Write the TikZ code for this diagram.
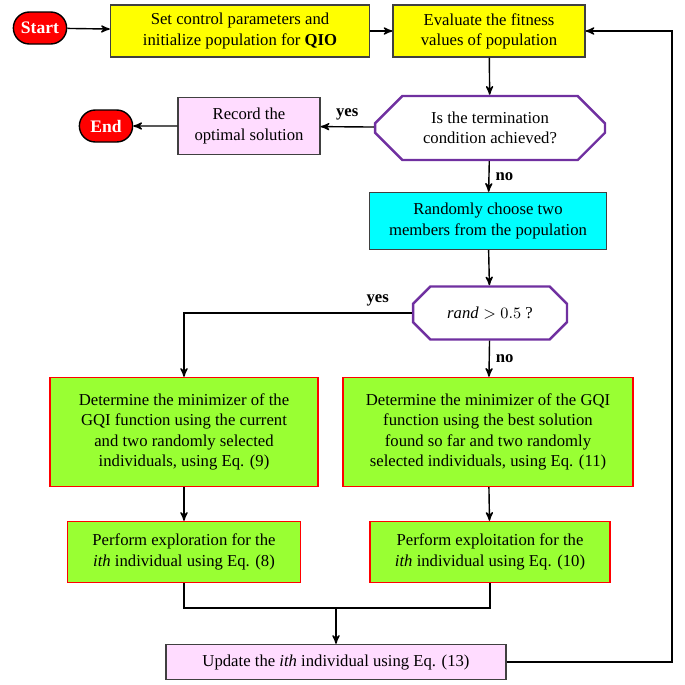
\documentclass[tikz,border=0pt]{standalone}
\usepackage{fontspec}
\setmainfont{Liberation Serif}
\usetikzlibrary{arrows,calc,shapes.geometric,shapes.misc,positioning}
\definecolor{yelbox}{RGB}{255,255,0}
\definecolor{pinkbox}{RGB}{255,220,255}
\definecolor{cyanbox}{RGB}{0,255,255}
\definecolor{greenbox}{RGB}{153,255,51}
\definecolor{hexline}{RGB}{112,48,160}
\begin{document}
\begin{tikzpicture}[x=0.02cm,y=-0.02cm,>=stealth',thick,
  font=\fontsize{9.5}{11.5}\selectfont,
  term node/.style={rounded rectangle,fill=red,draw=black,text=white,font=\fontsize{10}{12}\selectfont\bfseries,minimum width=1.3cm,minimum height=0.64cm},
  main node/.style={rectangle,draw=black!75,align=center,inner sep=2pt},
  hex node/.style={chamfered rectangle,chamfered rectangle xsep=0.5cm,draw=hexline,line width=1.4pt,fill=white,align=center}]

\useasboundingbox (0,0) rectangle (685,684);

\node[term node](S) at (40,28) {Start};
\node[main node,fill=yelbox,minimum width=5.18cm,minimum height=1.04cm](B1) at (240,31) {Set control parameters and\\initialize population for \textbf{QIO}};
\node[main node,fill=yelbox,minimum width=3.84cm,minimum height=1.04cm](B2) at (489,31) {Evaluate the fitness\\values of population};
\node[hex node,minimum width=4.6cm,minimum height=1.28cm](H1) at (490,128) {Is the termination\\condition achieved?};
\node[main node,fill=pinkbox,minimum width=2.84cm,minimum height=1.14cm](R) at (249,126) {Record the\\optimal solution};
\node[term node](E) at (106,126) {End};
\node[main node,fill=cyanbox,minimum width=4.74cm,minimum height=1.14cm](C) at (488,221) {Randomly choose two\\members from the population};
\node[hex node,minimum width=3.08cm,minimum height=1.06cm](H2) at (490,313) {$\mathit{rand} > 0.5$ ?};
\node[main node,draw=red,fill=greenbox,minimum width=5.36cm,minimum height=2.18cm](G1) at (184,432) {Determine the minimizer of the\\GQI function using the current\\and two randomly selected\\individuals, using Eq. (9)};
\node[main node,draw=red,fill=greenbox,minimum width=5.8cm,minimum height=2.18cm](G2) at (488,432) {Determine the minimizer of the GQI\\function using the best solution\\found so far and two randomly\\selected individuals, using Eq. (11)};
\node[main node,draw=red,fill=greenbox,minimum width=4.66cm,minimum height=1.22cm](P1) at (184,552) {Perform exploration for the\\$\mathit{ith}$ individual using Eq. (8)};
\node[main node,draw=red,fill=greenbox,minimum width=4.8cm,minimum height=1.22cm](P2) at (490,552) {Perform exploitation for the\\$\mathit{ith}$ individual using Eq. (10)};
\node[main node,fill=pinkbox,minimum width=6.8cm,minimum height=0.7cm](U) at (336,662) {Update the $\mathit{ith}$ individual using Eq. (13)};
\coordinate (J) at (336,608);
\coordinate (F) at (672,662);

\draw[->] (S) -- (B1);
\draw[->] (B1) -- (B2);
\draw[->] (B2) -- (H1);
\draw[->] (H1) -- node[above,font=\fontsize{9.5}{11}\selectfont\bfseries]{yes} (R);
\draw[->] (R) -- (E);
\draw[->] (H1) -- node[right,font=\fontsize{9.5}{11}\selectfont\bfseries]{no} (C);
\draw[->] (C) -- (H2);
\draw[->] (H2.west) -- node[above,pos=0.15,font=\fontsize{9.5}{11}\selectfont\bfseries]{yes} (G1.north |- H2.west) -- (G1);
\draw[->] (H2) -- node[right,font=\fontsize{9.5}{11}\selectfont\bfseries]{no} (G2);
\draw[->] (G1) -- (P1);
\draw[->] (G2) -- (P2);
\draw (P1) -- (P1.south |- J) -- (P2.south |- J) -- (P2);
\draw[->] (J) -- (U);
\draw[->] (U) -- (F) -- (F |- B2) -- (B2);
\end{tikzpicture}
\end{document}
